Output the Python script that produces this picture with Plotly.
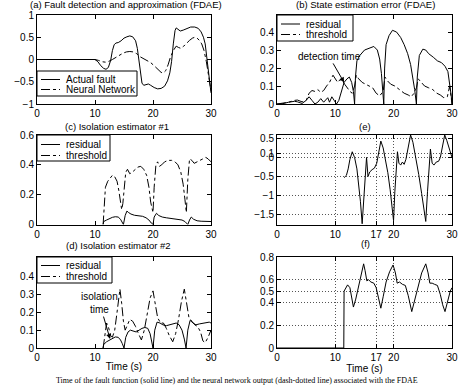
import plotly.graph_objects as go

W, H = 474, 388
def X(px): return px / W
def Y(py): return 1 - py / H

# ---------------- data ----------------
# (a) Fault detection and approximation
a_t_fault = [0, 10, 10.5, 11, 11.5, 11.9, 12.3, 12.7, 13.0, 13.3, 13.6, 14.0, 14.5, 15.0, 15.5, 16.0, 16.5, 17.0, 17.3, 17.6, 17.9, 18.1, 18.4, 18.8, 19.2, 19.6, 20.2, 20.8, 21.4, 22.0, 22.5, 22.9, 23.2, 23.5, 23.8, 24.0, 24.3, 24.7, 25.2, 25.8, 26.5, 27.2, 27.8, 28.3, 28.7, 29.0, 29.3, 29.6, 30]
a_fault = [0, 0, -0.05, -0.14, -0.2, -0.22, -0.18, -0.02, 0.2, 0.33, 0.37, 0.38, 0.42, 0.48, 0.51, 0.53, 0.51, 0.42, 0.25, -0.05, -0.4, -0.53, -0.58, -0.56, -0.55, -0.58, -0.63, -0.66, -0.65, -0.6, -0.48, -0.3, -0.05, 0.35, 0.65, 0.71, 0.67, 0.64, 0.66, 0.7, 0.73, 0.73, 0.7, 0.62, 0.5, 0.35, 0.0, -0.4, -0.75]
a_t_nn = [0, 10, 10.6, 11.2, 11.8, 12.4, 13, 13.6, 14.2, 14.8, 15.4, 16, 16.6, 17.2, 17.8, 18.4, 19, 19.6, 20.2, 20.8, 21.4, 21.8, 22.2, 22.6, 23, 23.5, 24, 24.4, 24.8, 25.3, 25.8, 26.3, 26.8, 27.2, 27.6, 28, 28.4, 28.8, 29.2, 29.6, 30]
a_nn = [0, 0, -0.02, -0.05, -0.06, -0.04, 0.0, 0.05, 0.1, 0.14, 0.17, 0.18, 0.17, 0.13, 0.06, 0.02, -0.02, -0.07, -0.14, -0.22, -0.29, -0.3, -0.25, -0.12, 0.05, 0.2, 0.3, 0.27, 0.25, 0.3, 0.37, 0.43, 0.48, 0.5, 0.48, 0.43, 0.35, 0.2, -0.05, -0.4, -0.7]

# (b) State estimation error
b_t_res = [0, 1, 2, 3, 3.5, 4.3, 5, 5.5, 6, 6.5, 7, 7.5, 8, 8.3, 8.7, 9, 9.4, 9.8, 10.2, 10.6, 11, 11.5, 12, 12.4, 12.8, 13.1, 13.3, 13.45, 13.7, 14.2, 15, 16, 16.6, 17.2, 17.6, 17.9, 18.1, 18.3, 18.45, 18.7, 19.2, 19.8, 20.5, 21.2, 21.8, 22.4, 22.9, 23.3, 23.6, 23.9, 24.05, 24.4, 25, 25.5, 26, 26.8, 27.5, 28.2, 28.8, 29.3, 29.6, 29.85, 30]
b_res = [0, 0.002, 0.01, 0.015, 0.012, 0.003, 0.02, 0.04, 0.02, 0.0, 0.01, 0.03, 0.01, 0.02, 0.035, 0.01, 0.04, 0.02, 0.0, 0.02, 0.06, 0.12, 0.14, 0.15, 0.12, 0.07, 0.0, 0.15, 0.24, 0.27, 0.3, 0.315, 0.32, 0.3, 0.25, 0.17, 0.08, 0.0, 0.2, 0.33, 0.38, 0.41, 0.4, 0.37, 0.33, 0.28, 0.22, 0.15, 0.08, 0.0, 0.15, 0.27, 0.305, 0.3, 0.28, 0.26, 0.24, 0.23, 0.21, 0.18, 0.12, 0.05, 0.0]
b_t_thr = [0, 1, 2, 3, 3.5, 4.3, 5, 5.5, 6, 6.5, 7, 7.5, 8, 8.5, 9, 9.6, 10, 10.4, 10.8, 11.2, 11.6, 12, 12.5, 12.9, 13.3, 13.6, 14, 14.6, 15.2, 15.8, 16.4, 17, 17.6, 18.2, 18.5, 18.9, 19.5, 20.2, 21, 21.8, 22.5, 23, 23.5, 23.9, 24.2, 24.7, 25.3, 26, 26.7, 27.4, 28, 28.6, 29.2, 29.6, 30]
b_thr = [0.0, 0.005, 0.01, 0.02, 0.022, 0.012, 0.02, 0.06, 0.075, 0.07, 0.08, 0.065, 0.075, 0.1, 0.12, 0.16, 0.14, 0.12, 0.135, 0.13, 0.11, 0.09, 0.07, 0.06, 0.1, 0.16, 0.14, 0.12, 0.11, 0.1, 0.09, 0.06, 0.045, 0.07, 0.15, 0.13, 0.11, 0.1, 0.08, 0.06, 0.05, 0.04, 0.06, 0.09, 0.14, 0.12, 0.1, 0.09, 0.08, 0.06, 0.05, 0.035, 0.04, 0.1, 0.0]

# (c) Isolation estimator #1
c_t_res = [11.4, 11.5, 12, 12.5, 13, 13.5, 14, 14.4, 14.7, 14.9, 15.2, 15.5, 15.8, 16.2, 16.8, 17.5, 18.2, 18.8, 19.3, 19.7, 20.0, 20.2, 20.6, 21, 21.6, 22.3, 23, 23.7, 24.4, 25, 25.5, 25.8, 26, 26.3, 26.6, 27, 27.6, 28.3, 29, 30]
c_res = [0.0, 0.02, 0.03, 0.04, 0.048, 0.052, 0.05, 0.035, 0.015, 0.0, 0.06, 0.09, 0.08, 0.07, 0.062, 0.058, 0.055, 0.045, 0.03, 0.01, 0.0, 0.05, 0.075, 0.06, 0.05, 0.045, 0.042, 0.04, 0.035, 0.03, 0.02, 0.008, 0.0, 0.03, 0.05, 0.035, 0.025, 0.022, 0.02, 0.02]
c_t_thr = [11.4, 11.6, 11.8, 12.2, 12.6, 13, 13.4, 13.8, 14.1, 14.4, 14.6, 14.8, 15.0, 15.3, 15.6, 16, 16.4, 16.9, 17.4, 17.9, 18.4, 18.9, 19.3, 19.6, 20.0, 20.2, 20.5, 20.8, 21.1, 21.5, 22, 22.6, 23.2, 23.8, 24.3, 24.8, 25.2, 25.5, 25.75, 26, 26.3, 26.7, 27.1, 27.6, 28.1, 28.6, 29.1, 29.5, 30]
c_thr = [0.0, 0.15, 0.25, 0.29, 0.31, 0.33, 0.32, 0.29, 0.23, 0.15, 0.1, 0.14, 0.25, 0.35, 0.37, 0.34, 0.35, 0.37, 0.385, 0.39, 0.37, 0.33, 0.25, 0.15, 0.08, 0.25, 0.4, 0.42, 0.39, 0.4, 0.42, 0.43, 0.43, 0.42, 0.4, 0.35, 0.27, 0.17, 0.08, 0.3, 0.44, 0.43, 0.41, 0.42, 0.43, 0.44, 0.45, 0.44, 0.42]

# (e)
e_t = [11.5, 11.9, 12.2, 12.5, 12.9, 13.3, 13.7, 14.0, 14.3, 14.6, 14.8, 15.0, 15.2, 15.35, 15.6, 15.9, 16.3, 16.7, 17.1, 17.5, 17.8, 18.2, 18.6, 19.0, 19.4, 19.7, 19.98, 20.2, 20.45, 20.65, 20.9, 21.2, 21.5, 21.8, 22.1, 22.5, 22.9, 23.3, 23.8, 24.3, 24.8, 25.2, 25.5, 25.8, 26.1, 26.3, 26.6, 26.9, 27.3, 27.7, 28.0, 28.4, 28.75, 29.1, 29.5, 30]
e_val = [-0.53, -0.47, -0.3, -0.05, 0.15, 0.0, -0.3, -0.65, -1.15, -1.74, -1.3, -0.7, -0.2, 0.0, -0.5, -0.38, -0.32, -0.28, -0.15, 0.15, 0.43, 0.25, -0.05, -0.4, -0.85, -1.25, -1.66, -0.9, -0.1, 0.15, -0.15, -0.2, -0.12, -0.18, -0.05, 0.25, 0.59, 0.4, 0.0, -0.45, -0.95, -1.35, -1.68, -0.9, -0.1, 0.22, -0.15, -0.2, -0.12, -0.1, 0.0, 0.3, 0.59, 0.45, 0.25, 0.0]

# (d) Isolation estimator #2
d_t_res = [11.4, 11.5, 12, 12.5, 13, 13.5, 14, 14.4, 14.7, 15, 15.3, 15.7, 16.1, 16.6, 17.1, 17.6, 18.1, 18.6, 19.1, 19.5, 19.8, 20, 20.3, 20.7, 21.2, 21.7, 22.3, 22.9, 23.5, 24, 24.5, 25, 25.4, 25.7, 26, 26.4, 26.9, 27.4, 28, 28.6, 29.2, 29.7, 30]
d_res = [0.0, 0.02, 0.035, 0.045, 0.055, 0.062, 0.06, 0.045, 0.025, 0.0, 0.06, 0.09, 0.1, 0.095, 0.09, 0.1, 0.11, 0.115, 0.11, 0.08, 0.04, 0.0, 0.1, 0.145, 0.14, 0.13, 0.125, 0.13, 0.135, 0.14, 0.13, 0.1, 0.05, 0.0, 0.1, 0.155, 0.14, 0.13, 0.135, 0.14, 0.145, 0.145, 0.14]
d_t_thr = [11.4, 11.7, 12.0, 12.3, 12.7, 13.0, 13.4, 13.8, 14.1, 14.3, 14.6, 14.9, 15.2, 15.6, 16, 16.5, 17, 17.5, 18, 18.5, 19, 19.5, 20, 20.4, 20.8, 21.3, 21.8, 22.3, 22.8, 23.4, 23.9, 24.4, 24.9, 25.4, 25.8, 26.2, 26.7, 27.2, 27.7, 28.2, 28.6, 29, 29.5, 30]
d_thr = [0.0, 0.08, 0.14, 0.12, 0.07, 0.06, 0.1, 0.2, 0.3, 0.33, 0.25, 0.15, 0.1, 0.13, 0.16, 0.15, 0.12, 0.08, 0.045, 0.1, 0.2, 0.28, 0.32, 0.25, 0.17, 0.14, 0.14, 0.11, 0.07, 0.035, 0.08, 0.16, 0.26, 0.33, 0.24, 0.17, 0.15, 0.13, 0.12, 0.09, 0.04, 0.03, 0.06, 0.1]

# (f)
f_t = [0, 11.45, 11.5, 11.8, 12.1, 12.5, 12.8, 13.1, 13.5, 14, 14.5, 14.85, 15.1, 15.4, 15.7, 16.1, 16.6, 17, 17.4, 17.8, 18.2, 18.7, 19.3, 19.9, 20.3, 20.6, 21, 21.5, 22, 22.5, 23.1, 23.6, 24.2, 24.8, 25.5, 25.9, 26.2, 26.6, 27, 27.5, 28, 28.4, 28.8, 29.3, 29.7, 30]
f_val = [0, 0, 0.5, 0.53, 0.555, 0.53, 0.45, 0.36, 0.43, 0.55, 0.68, 0.74, 0.68, 0.59, 0.6, 0.58, 0.57, 0.53, 0.44, 0.35, 0.45, 0.58, 0.67, 0.73, 0.66, 0.57, 0.58, 0.56, 0.55, 0.46, 0.32, 0.42, 0.55, 0.66, 0.74, 0.66, 0.57, 0.57, 0.56, 0.55, 0.47, 0.38, 0.32, 0.42, 0.5, 0.53]

# tick labels
x_ticks_std = [0, 10, 20, 30]
x_ticks_grid = [0, 10, 17, 20, 30]
a_yticks = [-1, -0.5, 0, 0.5, 1]
b_yticks = [0, 0.1, 0.2, 0.3, 0.4]
c_yticks = [0, 0.2, 0.4, 0.6]
e_yticks = [-1.5, -1, -0.5, 0, 0.1, 0.5]
d_yticks = [0, 0.1, 0.2, 0.3, 0.4]
f_yticks = [0, 0.2, 0.4, 0.5, 0.6, 0.8]

FONT = "Liberation Sans, Arial, sans-serif"
SERIF = "Liberation Serif, Times New Roman, serif"
BLK = "black"
FS = 10

def lab(v):
    return ("%g" % v).replace("-", "\u2212")

fig = go.Figure()
solid = dict(color=BLK, width=1)
dashd = dict(color=BLK, width=1, dash="dashdot")

def add(x, y, n, line, name):
    ax = "" if n == 1 else str(n)
    fig.add_trace(go.Scatter(x=x, y=y, mode="lines", line=line, name=name,
                             xaxis="x" + ax, yaxis="y" + ax, showlegend=False,
                             hoverinfo="skip"))

add(a_t_fault, a_fault, 1, solid, "Actual fault")
add(a_t_nn, a_nn, 1, dashd, "Neural Network")
add(b_t_thr, b_thr, 2, dashd, "threshold")
add(b_t_res, b_res, 2, solid, "residual")
add(c_t_thr, c_thr, 3, dashd, "threshold")
add(c_t_res, c_res, 3, solid, "residual")
add(e_t, e_val, 4, solid, "")
add(d_t_thr, d_thr, 5, dashd, "threshold")
add(d_t_res, d_res, 5, solid, "residual")
add(f_t, f_val, 6, solid, "")

xl = [X(37), X(211)]
xr = [X(277), X(452)]
r1 = [Y(104), Y(15)]
r2 = [Y(224.5), Y(135)]
r3 = [Y(348), Y(257)]

GRID = dict(gridcolor="#555", griddash="1px,2px", gridwidth=1)

def xaxis(dom, anchor, ticks, grid=False, title=None):
    d = dict(domain=dom, anchor=anchor, range=[0, 30], tickmode="array",
             tickvals=ticks, ticktext=[lab(v) for v in ticks], automargin=False,
             showline=True, linecolor=BLK, linewidth=1, mirror="ticks",
             ticks="inside", ticklen=4, tickcolor=BLK, zeroline=False,
             showgrid=grid, tickfont=dict(family=FONT, size=FS, color=BLK), **GRID)
    if title:
        d["title"] = dict(text=title, font=dict(family=FONT, size=FS, color=BLK), standoff=0)
    return d

def yaxis(dom, anchor, rng, ticks, grid=False):
    return dict(domain=dom, anchor=anchor, range=rng, tickmode="array",
                tickvals=ticks, ticktext=[lab(v) for v in ticks], automargin=False,
                showline=True, linecolor=BLK, linewidth=1, mirror="ticks",
                ticks="inside", ticklen=4, tickcolor=BLK, zeroline=False,
                showgrid=grid, tickfont=dict(family=FONT, size=FS, color=BLK), **GRID)

layout = dict(
    width=W, height=H, margin=dict(l=0, r=0, t=0, b=0, autoexpand=False),
    paper_bgcolor="white", plot_bgcolor="white", showlegend=False,
    font=dict(family=FONT, size=FS, color=BLK),
    xaxis=xaxis(xl, "y", x_ticks_std), yaxis=yaxis(r1, "x", [-1, 1], a_yticks),
    xaxis2=xaxis(xr, "y2", x_ticks_std), yaxis2=yaxis(r1, "x2", [0, 0.495], b_yticks),
    xaxis3=xaxis(xl, "y3", x_ticks_std), yaxis3=yaxis(r2, "x3", [0, 0.6], c_yticks),
    xaxis4=xaxis(xr, "y4", x_ticks_grid, grid=True), yaxis4=yaxis(r2, "x4", [-1.76, 0.59], e_yticks, grid=True),
    xaxis5=xaxis(xl, "y5", x_ticks_std, title="Time (s)"), yaxis5=yaxis(r3, "x5", [0, 0.51], d_yticks),
    xaxis6=xaxis(xr, "y6", x_ticks_grid, grid=True, title="Time (s)"), yaxis6=yaxis(r3, "x6", [0, 0.8], f_yticks, grid=True),
)
fig.update_layout(**layout)

annotations = []
def text(px, py, s, xanchor="center", size=FS, family=FONT):
    annotations.append(dict(x=X(px), y=Y(py), xref="paper", yref="paper", text=s,
                            showarrow=False, xanchor=xanchor, yanchor="middle",
                            font=dict(family=family, size=size, color=BLK)))

# panel titles
TS = 9.5
text(126, 5, "(a) Fault detection and approximation (FDAE)", size=TS)
text(365, 5, "(b) State estimation error (FDAE)", size=TS)
text(117, 127, "(c) Isolation estimator #1", size=TS)
text(365, 127, "(e)", size=TS)
text(118, 245, "(d) Isolation estimator #2", size=TS)
text(365, 243, "(f)", size=TS)

# legends (layout decoration)
shapes = []
def legend(box, rows):
    x0, x1, y0, y1 = box
    shapes.append(dict(type="rect", xref="paper", yref="paper", x0=X(x0), x1=X(x1),
                       y0=Y(y1), y1=Y(y0), line=dict(color=BLK, width=1), fillcolor="white",
                       layer="above"))
    for (py, dash, label) in rows:
        shapes.append(dict(type="line", xref="paper", yref="paper", x0=X(x0 + 4), x1=X(x0 + 23),
                           y0=Y(py), y1=Y(py), line=dict(color=BLK, width=1, dash=dash), layer="above"))
        text(x0 + 27, py, label, xanchor="left")

legend((37, 137, 71, 96), [(79.5, "solid", "Actual fault"), (89.5, "dashdot", "Neural Network")])
legend((277, 353, 15, 41), [(24, "solid", "residual"), (34.5, "dashdot", "threshold")])
legend((37, 110, 135, 161), [(144.5, "solid", "residual"), (155.5, "dashdot", "threshold")])
legend((37, 112, 257, 283), [(265.5, "solid", "residual"), (276.5, "dashdot", "threshold")])

# arrows
annotations.append(dict(x=11.5, y=0.12, xref="x2", yref="y2", text="detection time",
                        showarrow=True, arrowhead=2, arrowsize=1, arrowwidth=1, arrowcolor=BLK,
                        ax=-15, ay=-26, font=dict(family=FONT, size=FS, color=BLK)))
annotations.append(dict(x=12.6, y=0.05, xref="x5", yref="y5", text="isolation<br>time",
                        showarrow=True, arrowhead=2, arrowsize=1, arrowwidth=1, arrowcolor=BLK,
                        ax=-10.5, ay=-36, font=dict(family=FONT, size=FS, color=BLK)))

# caption line at the bottom
annotations.append(dict(x=0.5, y=Y(380.5), xref="paper", yref="paper",
                        text="Time of the fault function (solid line) and the neural network output (dash-dotted line) associated with the FDAE",
                        showarrow=False, xanchor="center", yanchor="middle",
                        font=dict(family=SERIF, size=8, color=BLK)))

fig.update_layout(annotations=annotations, shapes=shapes)
fig.write_html("out.html", config={"displayModeBar": False},
               post_script="document.body.style.margin='0px';document.body.style.padding='0px';")
